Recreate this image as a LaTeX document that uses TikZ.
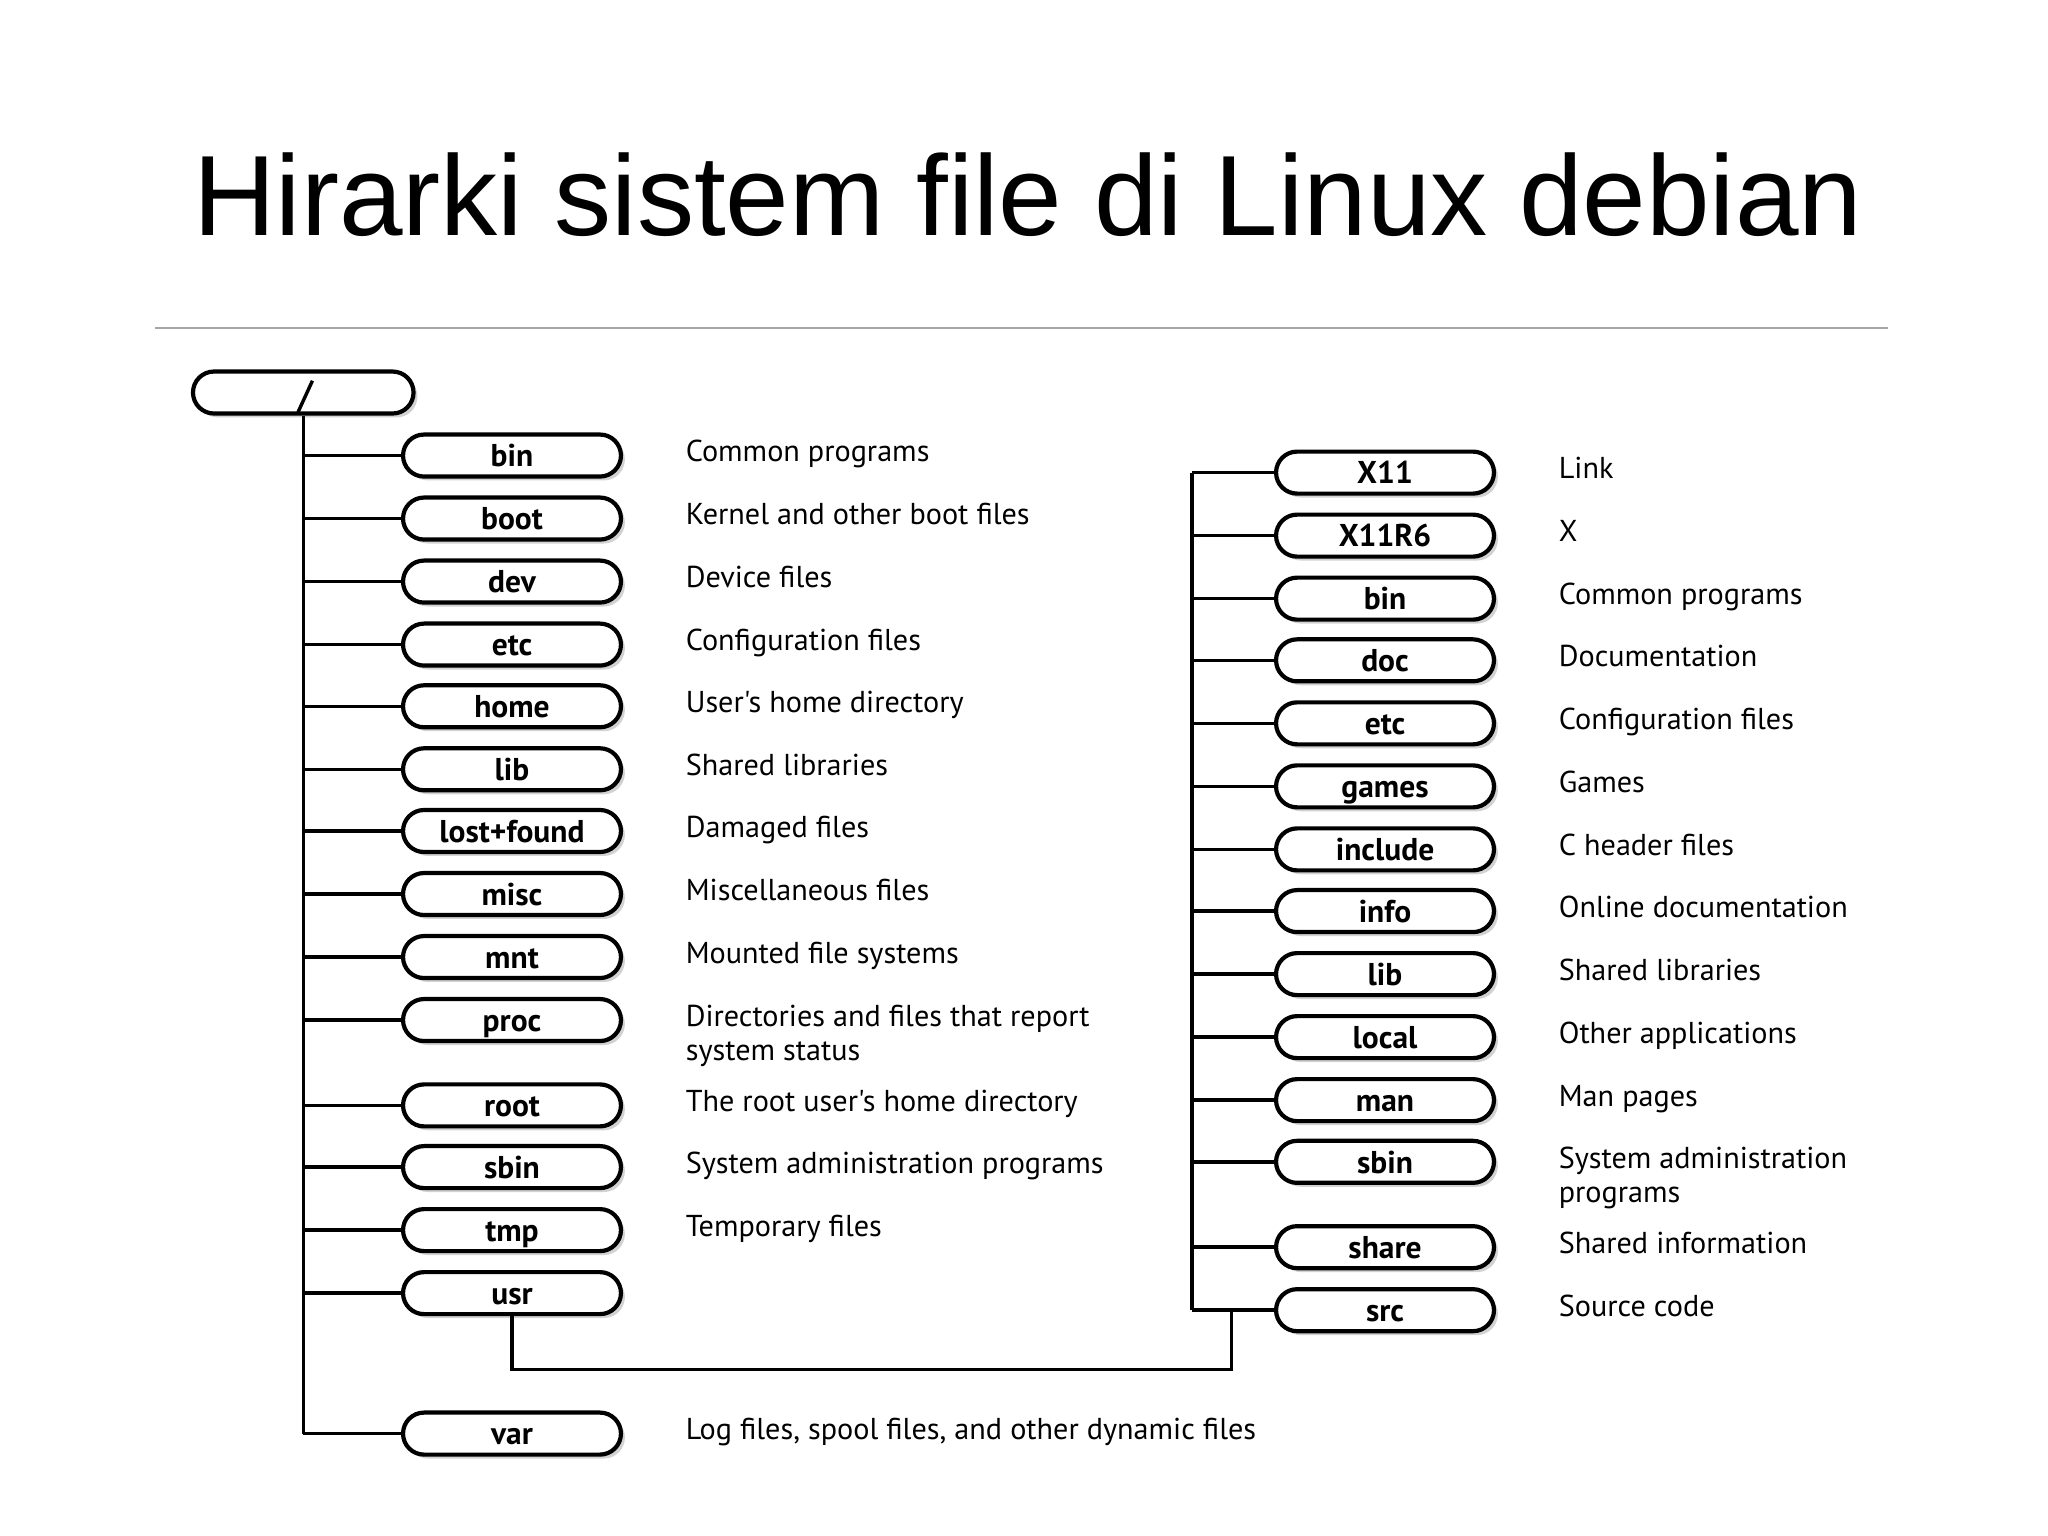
\documentclass[tikz,border=0pt]{standalone}
\usepackage{fontspec}
\setmainfont{Liberation Sans}
\newfontfamily\lab{PT Sans}
\usetikzlibrary{shadows}
\begin{document}
\begin{tikzpicture}[x=0.5pt,y=-0.5pt,
  dir/.style={draw,line width=1.6pt,rounded corners=8pt,minimum width=83pt,minimum height=16pt,fill=white,
     drop shadow={shadow xshift=1.5pt,shadow yshift=-1.5pt,fill=black!35},
     font=\lab\bfseries\fontsize{12}{12}\selectfont,inner sep=0pt,text depth=0pt,text height=8.5pt},
  desc/.style={anchor=west,font=\lab\fontsize{11.5}{13}\selectfont,align=left,inner sep=0pt},
  ln/.style={line width=1.3pt}]
\useasboundingbox (0,0) rectangle (1560,1170);
\node[font=\fontsize{43.5}{44}\selectfont] (title) at (783,148) {Hirarki sistem file di Linux debian};
\draw[gray!70,line width=0.6pt] (118,250) -- (1438,250);
\node[dir,minimum width=84pt] (root) at (231,299) {};
\draw[line width=1.3pt] (227,314) -- (238,290);
\coordinate (tb) at (231,1092);
\draw[ln] (root.south -| tb) -- (tb);
\foreach \n/\t/\y/\d in {bin/bin/347/Common programs, boot/boot/395/Kernel and other boot files,
 dev/dev/443/Device files, etc/etc/491/Configuration files, home/home/538/User's home directory,
 lib/lib/586/Shared libraries, lost/lost+found/633/Damaged files, misc/misc/681/Miscellaneous files,
 mnt/mnt/729/Mounted file systems, proc/proc/777/{Directories and files that report\\system status},
 rootd/root/842/The root user's home directory, sbin/sbin/889/System administration programs,
 tmp/tmp/937/Temporary files, usr/usr/985/, var/var/1092/{Log files, spool files, and other dynamic files}}{
  \node[dir] (L\n) at (390,\y) {\t};
  \draw[ln] (L\n.west) -- (L\n.west -| tb);
  \node[desc,anchor=north west] (D\n) at (522,\y-12) {\d};
}
\coordinate (rt) at (908,360);
\coordinate (rb) at (908,998);
\draw[ln] (rt) -- (rb);
\foreach \n/\t/\y/\d in {xa/X11/360/Link, xb/X11R6/408/X, bin/bin/456/Common programs, doc/doc/503/Documentation,
 etc/etc/551/Configuration files, games/games/599/Games, include/include/647/C header files,
 info/info/694/Online documentation, lib/lib/742/Shared libraries, local/local/790/Other applications,
 man/man/838/Man pages, sbin/sbin/885/{System administration\\programs}, share/share/950/Shared information,
 src/src/998/Source code}{
  \node[dir] (R\n) at (1055,\y) {\t};
  \draw[ln] (R\n.west) -- (R\n.west -| rt);
  \node[desc,anchor=north west] (E\n) at (1187,\y-12) {\d};
}
\coordinate (j) at (938,998);
\draw[ln] (Lusr.south) -- (Lusr.south |- 0,1043) -- (938,1043) -- (j);
\end{tikzpicture}
\end{document}
